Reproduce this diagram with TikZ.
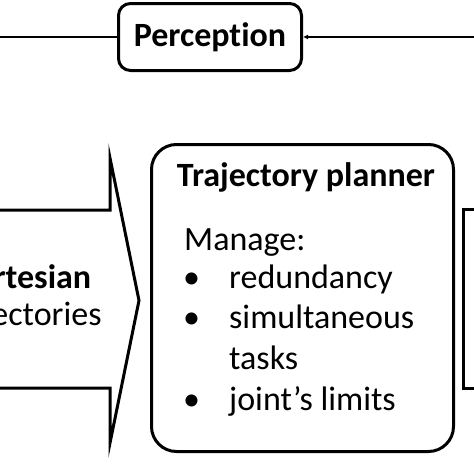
\documentclass[tikz,border=0pt]{standalone}
\usepackage{fontspec}
\setmainfont{Carlito}[Ligatures=NoCommon]
\usetikzlibrary{arrows.meta, positioning, calc}

\newcommand{\bigtext}{\fontsize{34}{40}\selectfont}

\begin{document}
\begin{tikzpicture}[x=1pt,y=-1pt,
  box/.style={draw,line width=3pt,rounded corners=12pt},
  wire/.style={line width=1.5pt},
  txt/.style={anchor=base west,inner sep=0pt,font=\bigtext}]
\clip (0,0) rectangle (474,474);
% Perception block and its wires
\node[box,minimum width=183pt,minimum height=67pt,font=\bfseries\bigtext] (perc) at (210,37) {Perception};
\coordinate (pl) at (-10,37);
\coordinate (pr) at (484,37);
\draw[wire] (perc.west) -- (pl);
\draw[wire,-{Latex[length=5pt,width=5pt]}] (pr) -- (perc.east);
% Big input arrow
\draw[line width=3pt] (-10,210) -- (110,210) -- (110,158) -- (139,300.5) -- (110,443) -- (110,388) -- (-10,388);
\node[anchor=base,inner sep=0pt,font=\bfseries\bigtext] (cart) at (25,288) {Cartesian};
\node[anchor=base,inner sep=0pt,font=\bigtext] (traj) at (23,325) {trajectories};
% Trajectory planner
\node[box,rounded corners=25pt,minimum width=302pt,minimum height=307pt] (plan) at (302.5,298) {};
\node[anchor=base,inner sep=0pt,font=\bfseries\bigtext] (title) at (306,186) {Trajectory planner};
\node[txt] (mng) at (184,250) {Manage:};
\node[txt] (b1) at (183,288) {•};
\node[txt] (i1) at (229,288) {redundancy};
\node[txt] (b2) at (183,328) {•};
\node[txt] (i2) at (229,328) {simultaneous};
\node[txt] (i2b) at (229,369) {tasks};
\node[txt] (b3) at (183,410) {•};
\node[txt] (i3) at (229,410) {joint’s limits};
% Next block (cut off)
\node[draw,line width=3pt,minimum width=57pt,minimum height=179pt] (next) at (491.5,299) {};
\end{tikzpicture}
\end{document}
